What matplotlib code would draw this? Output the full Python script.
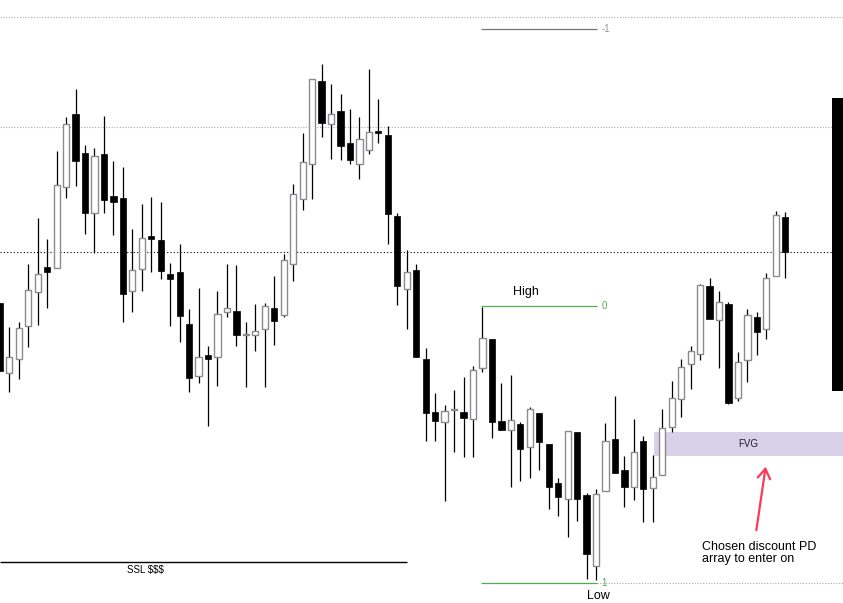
import matplotlib
matplotlib.use("Agg")
import matplotlib.pyplot as plt
from matplotlib.patches import Rectangle

# -------------------- Data (price units) --------------------

opens = [300, 230, 244, 277, 311, 336, 335, 416, 489, 450, 390, 449, 407, 405, 312, 334,
         367, 363, 329, 331, 279, 227, 248, 246, 291, 292, 268, 268, 274, 295, 288, 339,
         404, 439, 522, 479, 492, 460, 439, 453, 472, 468, 387, 314, 333, 244, 191, 181,
         193.5, 191, 184, 235, 264, 182, 173, 179, 156, 190, 159, 120, 104, 171, 108, 37,
         112, 164, 133, 116, 162, 115, 128, 176, 204, 239, 249, 317, 283, 299, 205, 243,
         286, 274, 327, 386]
highs = [300, 276, 281, 339, 385, 364, 452, 486, 514, 458, 455, 487, 442, 436, 374, 399,
         406, 401, 340, 359, 294, 315, 257, 312, 339, 338, 281, 299, 300, 327, 349, 419,
         470, 524, 539, 519, 509, 494, 486, 534, 504, 477, 390, 353, 339, 255, 210, 198,
         213, 226, 237, 296, 264, 220, 228, 181, 196, 190, 159, 125, 172, 171, 110, 114,
         180, 207, 147, 184, 167, 148, 194, 222, 244, 257, 319, 325, 312, 301, 251, 294,
         291, 330, 392, 391]
lows = [232, 211, 224, 256, 278, 295, 335, 405, 417, 369, 350, 390, 368, 281, 291, 312,
        331, 324, 277, 261, 211, 220, 177, 217, 286, 257, 216, 252, 216, 258, 286, 322,
        393, 404, 466, 444, 443, 439, 424, 449, 460, 359, 298, 274, 246, 162, 162, 102,
        151, 146, 146, 231, 165, 173, 116, 122, 125, 133, 94, 87, 66, 82, 24, 23,
        112, 130, 96, 103, 81, 81, 128, 171, 186, 214, 243, 284, 235, 199, 202, 221,
        248, 264, 327, 325]
closes = [232, 246, 275, 313, 329, 331, 418, 479, 442, 390, 447, 403, 401, 309, 333, 365,
          364, 332, 324, 287, 225, 246, 244, 289, 295, 268, 269, 272, 297, 282, 343, 409,
          441, 524, 480, 489, 457, 443, 464, 471, 470, 389, 317, 331, 246, 190, 182, 192,
          194, 185, 233, 265, 181, 173, 183, 154, 194, 161, 116, 106, 172, 104, 49, 109,
          162, 130, 116, 151, 114, 126, 175, 205, 236, 252, 318, 284, 301, 200, 241, 288,
          271, 325, 388, 351]

# Horizontal levels
grey_dotted_levels = [586, 476.5]
black_dotted_level = 351
fib_high, fib_low, fib_ext = 297, 20, 574
fib_start, fib_end = 50.8, 63.1
ssl_level, ssl_end = 41, 43.0
fvg_top, fvg_bottom, fvg_start = 171, 147, 69.1
side_bar_top, side_bar_bottom, side_bar_start = 505, 212, 87.93

# -------------------- Style --------------------
body_width = 0.66
outline = '#8a8a90'
green = '#4caf50'
grey_line = '#787878'
fvg_color = '#d9d0e9'
arrow_color = '#ff3858'
font = 'Liberation Sans'

fig = plt.figure(figsize=(8.43, 6.03), dpi=100)
ax = fig.add_axes([0, 0, 1, 1])
ax.axis('off')
ax.set_xlim(0.0159, 89.10)
ax.set_ylim(0, 603)

# level lines
for lvl in grey_dotted_levels:
    ax.axhline(lvl, color='#aaaaaa', lw=0.8, ls=(0, (1, 1.5)), zorder=1)
ax.axhline(black_dotted_level, color='black', lw=0.8, ls=(0, (1, 2)), zorder=1)
ax.hlines(fib_low, fib_end, 90, color='#aaaaaa', lw=0.8, ls=(0, (1, 1.5)), zorder=1)

# FVG zone
ax.add_patch(Rectangle((fvg_start, fvg_bottom), 30, fvg_top - fvg_bottom,
                       facecolor=fvg_color, edgecolor='none', zorder=0))
ax.text((fvg_start + 89.1) / 2, (fvg_top + fvg_bottom) / 2, 'FVG', ha='center',
        va='center', fontsize=7, family=font, color='#222222', zorder=5)

# candles
for i, (o, h, l, c) in enumerate(zip(opens, highs, lows, closes)):
    ax.vlines(i, l, h, color='black', lw=0.9, zorder=2)
    bottom = min(o, c)
    height = max(abs(c - o), 0.8)
    if c >= o:
        ax.bar(i, height, body_width, bottom, facecolor='white', edgecolor=outline,
               lw=1.0, zorder=3)
    else:
        ax.bar(i, height, body_width, bottom, facecolor='black', edgecolor='black',
               lw=0.5, zorder=3)

# fib levels
ax.hlines(fib_high, fib_start, fib_end, color=green, lw=0.9, zorder=4)
ax.hlines(fib_low, fib_start, fib_end, color=green, lw=0.9, zorder=4)
ax.hlines(fib_ext, fib_start, fib_end, color=grey_line, lw=0.9, zorder=4)
ax.text(fib_end + 0.5, fib_high, '0', color=green, fontsize=7, family=font, va='center')
ax.text(fib_end + 0.5, fib_low, '1', color=green, fontsize=7, family=font, va='center')
ax.text(fib_end + 0.5, fib_ext, '-1', color='#999999', fontsize=7, family=font, va='center')
ax.text(55.6, fib_high + 14, 'High', ha='center', va='center', fontsize=9, family=font)
ax.text(63.3, fib_low - 13, 'Low', ha='center', va='center', fontsize=9, family=font)

# SSL line
ax.hlines(ssl_level, 0, ssl_end, color='black', lw=1.0, zorder=4)
ax.text(15.4, ssl_level - 8, 'SSL $$$', ha='center', va='center', fontsize=7, family=font)

# side bar
ax.add_patch(Rectangle((side_bar_start, side_bar_bottom), 3, side_bar_top - side_bar_bottom,
                       facecolor='black', edgecolor='none', zorder=4))

# arrow + note
ax.annotate('', xy=(80.97, 139), xytext=(79.9, 70),
            arrowprops=dict(arrowstyle='->,head_length=0.7,head_width=0.45',
                            color=arrow_color, lw=1.6))
ax.text(74.2, 62, 'Chosen discount PD\narray to enter on', ha='left', va='top',
        fontsize=9, family=font, linespacing=1.0)

fig.savefig('out.png', dpi=100)
